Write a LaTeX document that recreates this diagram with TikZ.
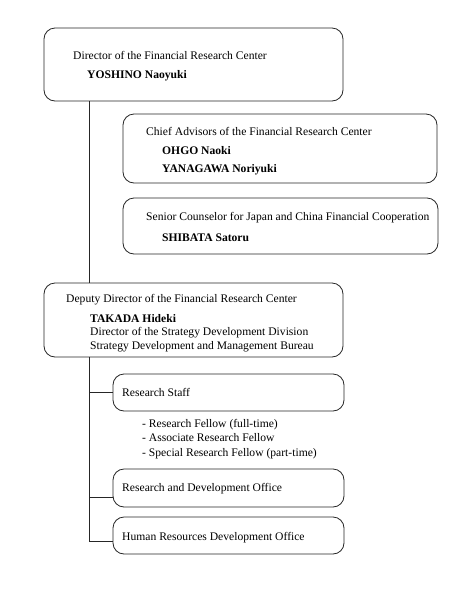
\documentclass[tikz,border=0pt]{standalone}
\usepackage{fontspec}
\setmainfont{Liberation Serif}
\begin{document}
\begin{tikzpicture}[x=1pt,y=-1pt,
  box/.style={draw=black!85, line width=0.8pt, rounded corners=11pt, inner sep=0pt},
  txt/.style={anchor=base west, inner sep=0pt, font=\fontsize{11.6}{14}\selectfont},
  btxt/.style={txt, font=\fontsize{11.6}{14}\selectfont\bfseries},
  conn/.style={draw=black!85, line width=0.8pt}]
\useasboundingbox (0,0) rectangle (472,590);
\fill[white] (0,0) rectangle (472,590);
% boxes
\node[box, minimum width=299pt, minimum height=73pt] (dir) at (193.5,64.5) {};
\node[box, minimum width=314pt, minimum height=69pt] (adv) at (280,148.5) {};
\node[box, minimum width=315pt, minimum height=56pt] (sen) at (280.5,226) {};
\node[box, minimum width=299pt, minimum height=74pt] (dep) at (193.5,320) {};
\node[box, minimum width=231pt, minimum height=37pt] (rs) at (228.5,392.5) {};
\node[box, minimum width=231pt, minimum height=38pt] (rd) at (228.5,488) {};
\node[box, minimum width=231pt, minimum height=37pt] (hr) at (228.5,535.5) {};
% texts
\node[txt] (t1) at (73,59) {Director of the Financial Research Center};
\node[btxt] (t2) at (87,78) {YOSHINO Naoyuki};
\node[txt] (t3) at (146,135) {Chief Advisors of the Financial Research Center};
\node[btxt] (t4) at (162,154) {OHGO Naoki};
\node[btxt] (t5) at (162,172) {YANAGAWA Noriyuki};
\node[txt] (t6) at (146,220) {Senior Counselor for Japan and China Financial Cooperation};
\node[btxt] (t7) at (162,241) {SHIBATA Satoru};
\node[txt] (t8) at (66,302) {Deputy Director of the Financial Research Center};
\node[btxt] (t9) at (90,322) {TAKADA Hideki};
\node[txt] (t10) at (90,335) {Director of the Strategy Development Division};
\node[txt] (t11) at (90,349) {Strategy Development and Management Bureau};
\node[txt] (t12) at (122,396) {Research Staff};
\node[txt] (t13) at (142,427) {- Research Fellow (full-time)};
\node[txt] (t14) at (142,441) {- Associate Research Fellow};
\node[txt] (t15) at (142,456) {- Special Research Fellow (part-time)};
\node[txt] (t16) at (122,491) {Research and Development Office};
\node[txt] (t17) at (122,540) {Human Resources Development Office};
% connectors
\coordinate (trunk) at (89,0);
\draw[conn] (dir.south -| trunk) -- (dep.north -| trunk);
\draw[conn] (dep.south -| trunk) |- ([yshift=-6pt]hr.west);
\draw[conn] (rs.west -| trunk) -- (rs.west);
\draw[conn] ([yshift=-9pt]rd.west -| trunk) -- ([yshift=-9pt]rd.west);
\end{tikzpicture}
\end{document}
